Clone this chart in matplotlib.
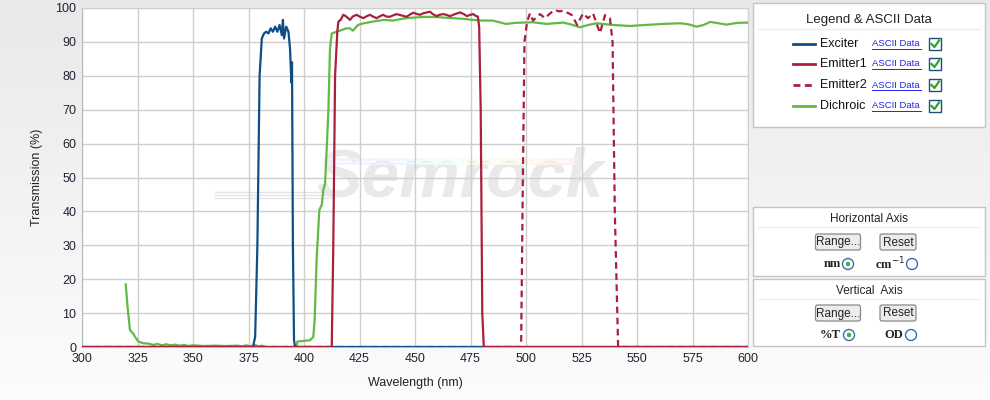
import numpy as np
import matplotlib
matplotlib.use("Agg")
import matplotlib.pyplot as plt
from matplotlib.patches import Rectangle, FancyBboxPatch, Circle
from matplotlib.collections import LineCollection

plt.rcParams['font.family'] = ['Liberation Sans', 'DejaVu Sans']

# data (wavelength nm, transmission %)
exc_wl = [300, 377, 378, 379, 380, 381, 382, 383, 384, 385, 386, 387, 388, 389, 390,
          390.5, 391, 392, 393, 393.7, 394.3, 394.6, 395, 395.5, 396, 600]
exc_t = [0, 0, 3, 30, 80, 91, 92.5, 93, 92.5, 94, 93, 94.5, 93, 95, 92,
         96.5, 91, 94.5, 93, 88, 78, 84, 30, 2, 0, 0]

em1_wl = [300, 412.5, 413.2, 414, 415, 415.5, 416.5, 417.7, 419, 420.7, 422, 423.7, 425,
          426.7, 428, 429.7, 431, 432.7, 434, 435.7, 437, 438.7, 440, 441.7, 444, 446.2,
          448, 449.2, 451, 452.3, 454, 456.8, 458, 459.8, 461, 462.8, 464, 465.8, 468,
          470.3, 472, 473.3, 475, 476.3, 477.5, 478.3, 478.9, 479.6, 480.3, 481, 600]
em1_t = [0, 0, 30, 80, 93, 96, 96.5, 98, 97.5, 96.5, 97.5, 98, 97.5,
         97, 97.5, 98, 97.5, 97, 97.5, 98, 97.5, 97.4, 97.8, 98.2, 97.8, 97.4,
         98.2, 98.6, 98.2, 98, 98.5, 98.9, 98.2, 97.6, 98, 98.2, 98, 97.6, 98.2,
         98.7, 98.2, 97.6, 98, 98.2, 97.6, 97.5, 94.5, 70, 10, 0, 0]

em2_wl = [300, 497.8, 498.6, 499.3, 500.5, 501.8, 503.2, 505, 506.3, 508.6, 511, 513, 515,
          516.7, 519, 520.7, 523, 525.7, 527.9, 530.2, 531.5, 533.3, 535.6, 537.8, 539,
          540, 541.5, 600]
em2_t = [0, 0, 50, 90, 96, 98.4, 96.3, 97.5, 98.2, 97, 98.5, 99.4, 99,
         99.2, 98.5, 97.9, 95, 98.4, 97, 98.4, 96, 92.6, 97.9, 97, 90,
         40, 0, 0]

dic_wl = [319.7, 320.5, 321.6, 323, 323.9, 325.4, 327.6, 330, 332, 334, 336, 338, 340,
          342, 344, 346, 348, 350, 355, 360, 365, 370, 372, 374, 376, 378, 379.5, 381,
          383, 396.7, 397, 400, 402.7, 404.2, 404.8, 405.7, 406.9, 408, 408.7, 409.5,
          410.2, 411, 411.7, 412.5, 414.7, 417, 419, 420.7, 422, 424.3, 427, 431, 436,
          440, 446, 450, 455, 460, 467, 472, 476, 480, 485, 491, 495, 498.6, 503, 509.3,
          516.7, 520, 524.3, 528, 531.8, 539, 546.8, 554, 561.7, 569.4, 573, 576.9, 580,
          583, 590.4, 595, 599.4, 600]
dic_t = [18.5, 12, 5, 4, 3, 1.6, 1.1, 1.0, 0.6, 0.9, 0.5, 0.8, 0.5,
         0.7, 0.4, 0.6, 0.3, 0.5, 0.3, 0.4, 0.3, 0.4, 0.2, 0.5, 0.2, 0.6, 0.2, 0.4,
         0, 0, 1.6, 1.8, 2, 3, 8, 26, 40.4, 41.9, 46.3, 48.3,
         58, 70, 88, 92.5, 93, 93.5, 94, 94, 93.3, 95, 95.5, 96, 96.5,
         96.3, 97, 97.2, 97.4, 97.3, 97, 96.8, 96.5, 96.3, 96.3, 95.3, 95.6, 95.7, 95.8, 95.3,
         95.7, 95.2, 94.3, 95, 95.5, 95, 94.7, 95, 95.3, 95.5, 95.2, 94.5, 95,
         95.9, 95.1, 95.6, 95.7, 95.6]

names = ['Exciter', 'Emitter1', 'Emitter2', 'Dichroic']
colors = ['#0f4e85', '#a8203c', '#a8203c', '#62b946']
styles = ['-', '-', '--', '-']

xticks = [300, 325, 350, 375, 400, 425, 450, 475, 500, 525, 550, 575, 600]
yticks = [0, 10, 20, 30, 40, 50, 60, 70, 80, 90, 100]

fig = plt.figure(figsize=(9.9, 4.0), dpi=100)

# background / panel layer in pixel coordinates
bg = fig.add_axes([0, 0, 1, 1], zorder=0)
bg.set_xlim(0, 990)
bg.set_ylim(400, 0)
bg.axis('off')
grad = np.linspace(0, 1, 256).reshape(-1, 1)
bg.imshow(grad, extent=[0, 990, 400, 0], aspect='auto',
          cmap=matplotlib.colors.LinearSegmentedColormap.from_list('g', ['#e9e9e9', '#fcfcfc']),
          zorder=0)

ax = fig.add_axes([82/990, 53/400, 666/990, 339/400], zorder=1)
ax.set_facecolor('white')
ax.plot(dic_wl, dic_t, color=colors[3], lw=1.6, zorder=3)
ax.plot(em2_wl, em2_t, color=colors[2], lw=1.6, ls=styles[2], dashes=(3, 2), zorder=4)
ax.plot(exc_wl, exc_t, color=colors[0], lw=1.6, zorder=4)
ax.plot(em1_wl, em1_t, color=colors[1], lw=1.6, zorder=5)

ax.set_xlim(300, 600)
ax.set_ylim(0, 100)
ax.set_xticks(xticks)
ax.set_yticks(yticks)
ax.grid(True, color='#cfcfcf', lw=1)
ax.set_axisbelow(True)
ax.tick_params(length=0, labelsize=9, labelcolor='#222233', pad=4)
for s in ax.spines.values():
    s.set_color('#cfcfcf')
ax.spines['left'].set_color('#b8b8b8')
ax.spines['bottom'].set_color('#b8b8b8')
ax.set_xlabel('Wavelength (nm)', fontsize=9, color='#222222', labelpad=9)
ax.set_ylabel('Transmission (%)', fontsize=9, color='#222222', labelpad=9)

# watermark (under the grid)
ax.text(0.5676, 0.4425, 'Semrock', transform=ax.transAxes, fontsize=49, fontweight='bold',
        style='italic', color='#e9e9e9', ha='center', va='baseline', zorder=0.2)
for yy in [0.457, 0.448, 0.440]:
    ax.plot([0.20, 0.377], [yy, yy], transform=ax.transAxes, color='#e4e4e4',
            lw=1.0, zorder=0.2)
xs = np.linspace(0.362, 0.743, 60)
rainbow = matplotlib.colors.LinearSegmentedColormap.from_list(
    'r', ['#f1f0fc', '#eef3ff', '#f4fff7', '#fffce8', '#fdeeee'])
for yy in [0.5546, 0.5428]:
    pts = np.array([xs, np.full_like(xs, yy)]).T.reshape(-1, 1, 2)
    segs = np.concatenate([pts[:-1], pts[1:]], axis=1)
    lc = LineCollection(segs, cmap=rainbow, lw=1.8, transform=ax.transAxes, zorder=0.2)
    lc.set_array(np.linspace(0, 1, len(segs)))
    ax.add_collection(lc)

# right-hand panels
def panel(x0, y0, x1, y1):
    bg.add_patch(Rectangle((x0, y0), x1 - x0, y1 - y0, facecolor='white',
                           edgecolor='#c4c4c4', lw=1, zorder=2))

def button(cx, cy, w, label):
    bg.add_patch(FancyBboxPatch((cx - w/2, cy - 8), w, 16, boxstyle='round,pad=0,rounding_size=2',
                                facecolor='#ececec', edgecolor='#8a8a8a', lw=0.9, zorder=3))
    bg.text(cx, cy + 0.5, label, ha='center', va='center', fontsize=8.5, color='#222222', zorder=4)

def radio(cx, cy, on):
    bg.add_patch(Circle((cx, cy), 5.5, facecolor='white', edgecolor='#3a6ea5', lw=1, zorder=3))
    if on:
        bg.add_patch(Circle((cx, cy), 2.2, facecolor='#3cb043', edgecolor='none', zorder=4))

panel(753, 3, 985, 127)
bg.text(869, 20, 'Legend & ASCII Data', ha='center', va='center', fontsize=9.5, color='#222222', zorder=4)
bg.plot([758, 980], [29, 29], color='#eeeeee', lw=1, zorder=3)
rows = [44, 64, 85, 106]
for name, c, st, ry in zip(names, colors, styles, rows):
    if st == '--':
        bg.plot([793, 815], [ry, ry], color=c, lw=2, ls='--', dashes=(2.5, 1.6), zorder=4)
    else:
        bg.plot([793, 815], [ry, ry], color=c, lw=2, zorder=4)
    bg.text(820, ry, name, ha='left', va='center', fontsize=9, color='#111111', zorder=4)
    bg.text(872, ry, 'ASCII Data', ha='left', va='center', fontsize=6.8, color='#2222ee', zorder=4)
    bg.plot([872, 921], [ry + 5, ry + 5], color='#2222ee', lw=0.7, zorder=4)
    bg.add_patch(Rectangle((929, ry - 6), 12, 12, facecolor='white', edgecolor='#1f4e79', lw=1, zorder=4))
    bg.plot([931.5, 934.5, 939], [ry, ry + 3, ry - 3.5], color='#2aa52a', lw=1.6, zorder=5)

panel(753, 207, 985, 276)
bg.text(869, 219, 'Horizontal Axis', ha='center', va='center', fontsize=8.5, color='#222222', zorder=4)
bg.plot([758, 980], [227, 227], color='#f0f0f0', lw=1, zorder=3)
button(838, 242, 45, 'Range...')
button(898, 242, 36, 'Reset')
bg.text(841, 264, 'nm', ha='right', va='center', fontsize=9, fontweight='bold',
        family='Liberation Serif', color='#222222', zorder=4)
radio(848, 264, True)
bg.text(905, 264, 'cm$^{-1}$', ha='right', va='center', fontsize=9, fontweight='bold',
        family='Liberation Serif', color='#222222', zorder=4)
radio(912, 264, False)

panel(753, 279, 985, 346)
bg.text(869, 291, 'Vertical  Axis', ha='center', va='center', fontsize=8.5, color='#222222', zorder=4)
bg.plot([758, 980], [299, 299], color='#f0f0f0', lw=1, zorder=3)
button(838, 313, 45, 'Range...')
button(898, 313, 36, 'Reset')
bg.text(841, 335, '%T', ha='right', va='center', fontsize=9, fontweight='bold',
        family='Liberation Serif', color='#222222', zorder=4)
radio(849, 335, True)
bg.text(903, 335, 'OD', ha='right', va='center', fontsize=9, fontweight='bold',
        family='Liberation Serif', color='#222222', zorder=4)
radio(911, 335, False)

fig.savefig('out.png', dpi=100)
